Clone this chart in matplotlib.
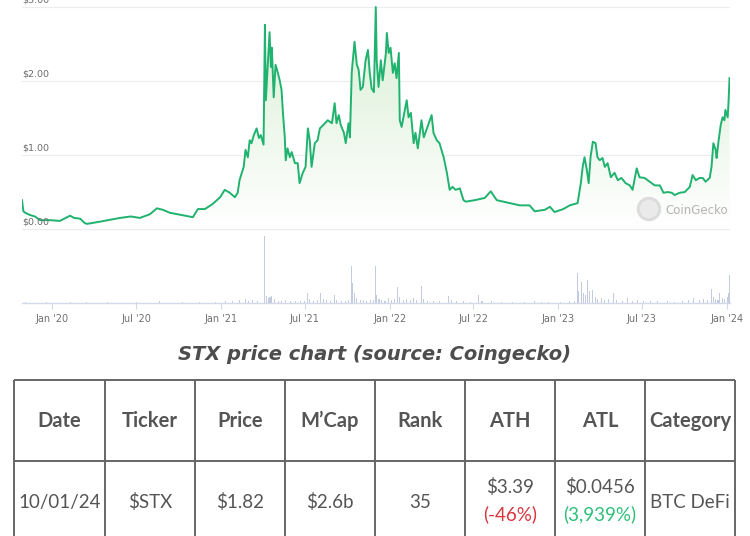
import numpy as np
import pandas as pd
import matplotlib
matplotlib.use("Agg")
import matplotlib.pyplot as plt
import matplotlib.dates as mdates
from matplotlib.colors import LinearSegmentedColormap
from matplotlib.patches import Circle

# STX price (USD)
price_dates = [
    '2019-10-28', '2019-10-31', '2019-11-04', '2019-11-14', '2019-11-25', '2019-12-06',
    '2019-12-28', '2020-01-18', '2020-02-09', '2020-02-18', '2020-03-02', '2020-03-12',
    '2020-03-17', '2020-04-14', '2020-05-27', '2020-06-20', '2020-07-09', '2020-07-31',
    '2020-08-15', '2020-08-28', '2020-09-12', '2020-10-15', '2020-11-01', '2020-11-12',
    '2020-11-27', '2020-12-14', '2020-12-30', '2021-01-09',
    # 2021
    '2021-01-20', '2021-01-31', '2021-02-06', '2021-02-10', '2021-02-15', '2021-02-19',
    '2021-02-23', '2021-02-28', '2021-03-04', '2021-03-08', '2021-03-13', '2021-03-19',
    '2021-03-24', '2021-03-28', '2021-04-03', '2021-04-06', '2021-04-08', '2021-04-10',
    '2021-04-16', '2021-04-19', '2021-04-21', '2021-04-25', '2021-04-29', '2021-05-04',
    '2021-05-08', '2021-05-12', '2021-05-15', '2021-05-19', '2021-05-21', '2021-05-25',
    '2021-05-30', '2021-06-03', '2021-06-10', '2021-06-16', '2021-06-20', '2021-06-27',
    '2021-07-03', '2021-07-08', '2021-07-12', '2021-07-16', '2021-07-23', '2021-07-29',
    '2021-08-03', '2021-08-11', '2021-08-20', '2021-08-29', '2021-09-04', '2021-09-08',
    '2021-09-13', '2021-09-17', '2021-09-24', '2021-09-28', '2021-10-04',
    # late 2021 - mid 2022
    '2021-10-07', '2021-10-11', '2021-10-13', '2021-10-17', '2021-10-22', '2021-10-26',
    '2021-10-30', '2021-11-04', '2021-11-10', '2021-11-15', '2021-11-19', '2021-11-23',
    '2021-11-28', '2021-12-02', '2021-12-04', '2021-12-08', '2021-12-13', '2021-12-17',
    '2021-12-24', '2021-12-26', '2021-12-30', '2022-01-03', '2022-01-08', '2022-01-12',
    '2022-01-16', '2022-01-21', '2022-01-23', '2022-01-27', '2022-01-31', '2022-02-07',
    '2022-02-11', '2022-02-16', '2022-02-22', '2022-02-26', '2022-03-03', '2022-03-11',
    '2022-03-16', '2022-03-24', '2022-04-02', '2022-04-06', '2022-04-13', '2022-04-19',
    '2022-04-28', '2022-05-05', '2022-05-11', '2022-05-17', '2022-05-24', '2022-06-02',
    '2022-06-10',
    # bear market
    '2022-06-15', '2022-07-04', '2022-07-26', '2022-08-08', '2022-08-21', '2022-09-18',
    '2022-10-10', '2022-10-31', '2022-11-11', '2022-12-03', '2022-12-14', '2022-12-24',
    '2023-01-12',
    # 2023 - Jan 2024
    '2023-01-26', '2023-02-12', '2023-02-19', '2023-02-23', '2023-02-27', '2023-03-04',
    '2023-03-08', '2023-03-12', '2023-03-17', '2023-03-23', '2023-03-27', '2023-04-01',
    '2023-04-07', '2023-04-12', '2023-04-18', '2023-04-25', '2023-05-03', '2023-05-10',
    '2023-05-18', '2023-05-27', '2023-06-05', '2023-06-11', '2023-06-20', '2023-06-26',
    '2023-07-07', '2023-07-18', '2023-07-29', '2023-08-09', '2023-08-17', '2023-08-26',
    '2023-09-04', '2023-09-10', '2023-09-21', '2023-10-02', '2023-10-13', '2023-10-19',
    '2023-10-26', '2023-11-03', '2023-11-10', '2023-11-16', '2023-11-25', '2023-11-29',
    '2023-12-03', '2023-12-08', '2023-12-10', '2023-12-14', '2023-12-19', '2023-12-23',
    '2023-12-27', '2023-12-29', '2024-01-03', '2024-01-05', '2024-01-07',
]
price_values = [
    0.39, 0.24, 0.22, 0.19, 0.17, 0.12,
    0.12, 0.11, 0.18, 0.15, 0.14, 0.08,
    0.07, 0.10, 0.15, 0.17, 0.15, 0.20,
    0.28, 0.26, 0.22, 0.18, 0.16, 0.27,
    0.27, 0.34, 0.43, 0.53,
    0.49, 0.43, 0.49, 0.66, 0.76, 0.84,
    1.07, 0.97, 1.20, 1.16, 1.27, 1.36,
    1.23, 1.27, 1.14, 2.76, 1.74, 1.97,
    2.66, 2.19, 2.45, 1.78, 2.22, 2.11,
    2.01, 1.88, 1.57, 1.24, 0.93, 1.09,
    0.97, 1.04, 0.89, 0.89, 0.62, 0.76,
    0.84, 1.36, 1.20, 0.84, 1.16, 1.20,
    1.36, 1.41, 1.47, 1.43, 1.70, 1.43,
    1.54, 1.41, 1.30, 1.16, 1.43,
    1.24, 2.12, 2.26, 2.53, 2.22, 2.15,
    1.88, 1.92, 2.28, 2.42, 2.11, 1.90,
    1.85, 3.00, 2.28, 1.92, 2.28, 2.01,
    2.38, 2.65, 2.38, 2.45, 2.11, 2.24,
    2.04, 2.38, 1.47, 1.38, 1.51, 1.74,
    1.51, 1.57, 1.16, 1.30, 1.09, 1.47,
    1.24, 1.38, 1.54, 1.30, 1.20, 1.16,
    0.97, 0.76, 0.53, 0.57, 0.53, 0.55,
    0.39,
    0.37, 0.39, 0.42, 0.51, 0.39, 0.35,
    0.32, 0.32, 0.24, 0.26, 0.30, 0.23,
    0.27,
    0.32, 0.35, 0.62, 0.84, 0.97, 0.80,
    0.62, 0.97, 1.18, 1.16, 0.97, 0.93,
    0.96, 0.84, 0.89, 0.70, 0.76, 0.66,
    0.69, 0.62, 0.59, 0.53, 0.82, 0.70,
    0.69, 0.64, 0.59, 0.59, 0.49, 0.50,
    0.49, 0.46, 0.49, 0.50, 0.57, 0.73,
    0.66, 0.69, 0.69, 0.64, 0.69, 0.84,
    1.16, 1.07, 0.96, 1.18, 1.41, 1.51,
    1.47, 1.61, 1.51, 1.74, 2.04,
]

# trading volume (relative units)
vol_dates = [
    '2019-11-05', '2019-12-20', '2020-02-10', '2020-03-15', '2020-05-01', '2020-07-01',
    '2020-08-20', '2020-10-10', '2020-11-15', '2020-12-20', '2021-01-10', '2021-01-25',
    '2021-02-10', '2021-02-22', '2021-03-01', '2021-03-10', '2021-03-20', '2021-04-06',
    '2021-04-09', '2021-04-13', '2021-04-17', '2021-04-21', '2021-04-27', '2021-05-05',
    '2021-05-12', '2021-05-20', '2021-06-01', '2021-06-12', '2021-06-22', '2021-07-01',
    '2021-07-08', '2021-07-12', '2021-07-20', '2021-07-28', '2021-08-05', '2021-08-10',
    '2021-08-18', '2021-08-26', '2021-09-03', '2021-09-08', '2021-09-18', '2021-09-28',
    '2021-10-04', '2021-10-11', '2021-10-13', '2021-10-17', '2021-10-22', '2021-10-29',
    '2021-11-05', '2021-11-12', '2021-11-20', '2021-11-27', '2021-12-01', '2021-12-04',
    '2021-12-09', '2021-12-15', '2021-12-22', '2021-12-29', '2022-01-05', '2022-01-12',
    '2022-01-19', '2022-01-23', '2022-01-30', '2022-02-07', '2022-02-15', '2022-02-22',
    '2022-03-01', '2022-03-11', '2022-03-16', '2022-03-25', '2022-04-05', '2022-04-18',
    '2022-05-08', '2022-05-14', '2022-05-25', '2022-06-10', '2022-06-25', '2022-07-12',
    '2022-07-20', '2022-08-10', '2022-09-01', '2022-09-25', '2022-10-20', '2022-11-10',
    '2022-11-25', '2022-12-10', '2023-01-05', '2023-01-25', '2023-02-05', '2023-02-12',
    '2023-02-15', '2023-02-20', '2023-02-24', '2023-03-01', '2023-03-06', '2023-03-10',
    '2023-03-17', '2023-03-22', '2023-03-28', '2023-04-05', '2023-04-12', '2023-04-20',
    '2023-04-30', '2023-05-08', '2023-05-20', '2023-06-01', '2023-06-10', '2023-06-22',
    '2023-07-05', '2023-07-20', '2023-08-05', '2023-08-25', '2023-09-10', '2023-09-28',
    '2023-10-10', '2023-10-20', '2023-11-02', '2023-11-12', '2023-11-20', '2023-11-28',
    '2023-12-03', '2023-12-08', '2023-12-13', '2023-12-17', '2023-12-22', '2023-12-28',
    '2024-01-02', '2024-01-05', '2024-01-07',
]
vol_values = [
    1, 0.6, 0.8, 0.8, 0.5, 0.6,
    1.5, 0.8, 1, 1.2, 2, 1.5,
    3, 4, 2, 2.5, 1.5, 66,
    7, 5, 6, 7, 4, 2,
    2, 3, 1.5, 1.5, 1.5, 2,
    10, 4, 2, 3, 10, 4,
    2.5, 2, 8, 3, 2, 2,
    3, 36, 20, 10, 5, 3,
    3, 2, 2.5, 3, 36, 8,
    4, 3, 2, 5, 3, 4,
    16, 6, 3, 4, 3, 5,
    3, 17, 4, 2, 2, 1.5,
    7, 3, 1.5, 1.5, 1, 8,
    2, 1.5, 1, 1, 1, 2,
    1, 1, 1, 1.5, 2, 30,
    12, 21, 10, 8, 23, 12,
    13, 6, 4, 5, 3, 4,
    10, 3, 2, 5, 2, 2.5,
    1.5, 2, 1.5, 1.5, 1, 2,
    3, 5, 3, 4, 3, 14,
    6, 4, 3, 10, 5, 4,
    6, 10, 28,
]

y_ticks = [0, 1, 2, 3]
y_labels = ['$0.00', '$1.00', '$2.00', '$3.00']
tick_dates = ['2020-01-01', '2020-07-01', '2021-01-01', '2021-07-01', '2022-01-01',
              '2022-07-01', '2023-01-01', '2023-07-01', '2024-01-01']
tick_labels = ["Jan '20", "Jul '20", "Jan '21", "Jul '21", "Jan '22",
               "Jul '22", "Jan '23", "Jul '23", "Jan '24"]

headers = ['Date', 'Ticker', 'Price', 'M’Cap', 'Rank', 'ATH', 'ATL', 'Category']
row = ['10/01/24', '$STX', '$1.82', '$2.6b', '35', '$3.39', '$0.0456', 'BTC DeFi']
ath_change = '(-46%)'
atl_change = '(3,939%)'

GREEN = '#20b26f'
W, H = 750, 536

fig = plt.figure(figsize=(7.5, 5.36), dpi=100)
fig.patch.set_facecolor('white')


def px_axes(x0, y0, x1, y1):
    return fig.add_axes([x0 / W, 1 - y1 / H, (x1 - x0) / W, (y1 - y0) / H])


x = pd.to_datetime(price_dates)
y = np.array(price_values)
xmin, xmax = pd.Timestamp('2019-10-28'), pd.Timestamp('2024-01-08')

# price panel
ax = px_axes(22, 0, 730, 232)
for v, lab in zip(y_ticks, y_labels):
    ax.axhline(v, color='#ececec', lw=0.8, zorder=0)
    ax.text(0.0, v + 0.03, lab, transform=ax.get_yaxis_transform(),
            ha='left', va='bottom', fontsize=6.8, color='#6b6b6b', zorder=4)

poly = ax.fill_between(x, y, 0, color='none', lw=0)
cmap = LinearSegmentedColormap.from_list('g', ['#ffffff', '#d8efd3'])
grad = np.linspace(1, 0, 256).reshape(-1, 1)
im = ax.imshow(grad, aspect='auto', cmap=cmap, origin='upper',
               extent=[mdates.date2num(xmin), mdates.date2num(xmax), 0, 3.0], zorder=1)
im.set_clip_path(poly.get_paths()[0], transform=ax.transData)
ax.plot(x, y, color=GREEN, lw=1.4, zorder=3, solid_joinstyle='round')

ax.set_xlim(xmin, xmax)
ax.set_ylim(-0.04, 3.095)
ax.axis('off')

# volume panel
axv = px_axes(22, 234, 730, 303)
axv.bar(pd.to_datetime(vol_dates), vol_values, width=2.2, color='#c3cbe0', lw=0)
axv.set_xlim(xmin, xmax)
axv.set_ylim(0, 68)
for s in ['top', 'right', 'left']:
    axv.spines[s].set_visible(False)
axv.spines['bottom'].set_color('#d3d9e8')
axv.spines['bottom'].set_linewidth(1.0)
axv.set_yticks([])
axv.set_xticks(pd.to_datetime(tick_dates))
axv.set_xticklabels(tick_labels)
axv.tick_params(axis='x', length=4, color='#d3d9e8', labelcolor='#707070',
                labelsize=7, pad=4)

# overlay in pixel coordinates: watermark, caption, table
ov = fig.add_axes([0, 0, 1, 1])
ov.set_xlim(0, W)
ov.set_ylim(H, 0)
ov.axis('off')

ov.add_patch(Circle((649, 209), 11.5, color='#dcdcdc', zorder=2))
ov.add_patch(Circle((649, 209), 8.5, color='#eaeaea', zorder=2))
ov.text(665, 210, 'CoinGecko', fontsize=8.5, color='#b3b3b3', ha='left', va='center')

ov.text(375, 360, 'STX price chart (source: Coingecko)', ha='center', va='baseline',
        fontsize=14, fontweight='bold', style='italic', family='DejaVu Sans',
        color='#4d4d4d')

edges = [14, 105, 195, 285, 375, 465, 555, 645, 735]
top, mid = 380, 461
lc = '#666666'
for ex in edges:
    ov.plot([ex, ex], [top, H + 5], color=lc, lw=1.4, solid_capstyle='butt')
for ey in [top, mid]:
    ov.plot([edges[0], edges[-1]], [ey, ey], color=lc, lw=1.4, solid_capstyle='butt')

for i, h in enumerate(headers):
    cx = (edges[i] + edges[i + 1]) / 2
    ov.text(cx, 427, h, ha='center', va='baseline', fontsize=14.5, fontweight='bold',
            family='Lato', color='#555555')

for i, val in enumerate(row):
    cx = (edges[i] + edges[i + 1]) / 2
    if headers[i] in ('ATH', 'ATL'):
        ov.text(cx, 493, val, ha='center', va='baseline', fontsize=13.5,
                family='Lato', color='#555555')
        chg, col = (ath_change, '#d9363e') if headers[i] == 'ATH' else (atl_change, '#2fbf7a')
        ov.text(cx, 520, chg, ha='center', va='baseline', fontsize=13.5,
                family='Lato', color=col)
    else:
        ov.text(cx, 508, val, ha='center', va='baseline', fontsize=13.5,
                family='Lato', color='#555555')

fig.savefig('out.png', dpi=100, facecolor='white')
